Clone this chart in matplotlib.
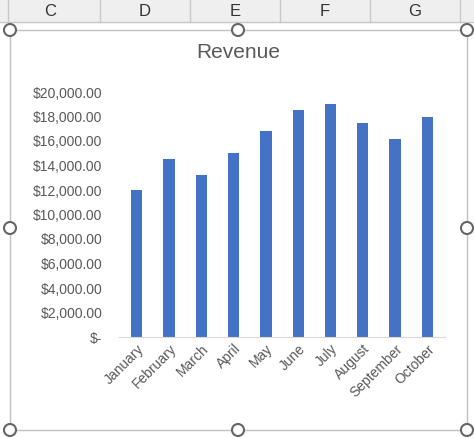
import matplotlib
matplotlib.use('Agg')
import matplotlib.pyplot as plt
from matplotlib.patches import Rectangle, Circle

plt.rcParams['font.family'] = ['Liberation Sans', 'DejaVu Sans']

months = ['January', 'February', 'March', 'April', 'May', 'June',
          'July', 'August', 'September', 'October']
revenue = [12000, 14500, 13200, 15000, 16800, 18500, 19000, 17500, 16200, 18000]
columns = ['C', 'D', 'E', 'F', 'G']
col_x = [50, 145, 235, 325, 415]

W, H = 474, 438
fig = plt.figure(figsize=(W / 100, H / 100), dpi=100)

# spreadsheet background: header strip and cell grid
bg = fig.add_axes([0, 0, 1, 1])
bg.set_xlim(0, W)
bg.set_ylim(H, 0)
bg.axis('off')
bg.add_patch(Rectangle((0, 0), W, 22, color='#efefef'))
bg.axhline(22, color='#c8c8c8', lw=1)
for x in [8, 100, 190, 280, 370, 460]:
    bg.plot([x, x], [0, 22], color='#c8c8c8', lw=1)
for c, x in zip(columns, col_x):
    bg.text(x, 11, c, ha='center', va='center', fontsize=12, color='#333333')
bg.add_patch(Rectangle((10, 30), 457, 400, facecolor='white', edgecolor='#c0c0c0', lw=1))
for (hx, hy) in [(10, 30), (238, 30), (467, 30), (10, 228), (467, 228), (10, 430), (238, 430), (467, 430)]:
    bg.add_patch(Circle((hx, hy), 6, facecolor='white', edgecolor='#666666', lw=1.5, zorder=5))

ax = fig.add_axes([0.251, 1 - 337 / H, 0.688, (337 - 92) / H])
ax.bar(range(len(months)), revenue, width=0.35, color='#4472c4')
ax.set_ylim(0, 20000)
ax.set_yticks(range(0, 20001, 2000))
ax.set_yticklabels(['$-' if v == 0 else '${:,.2f}'.format(v) for v in range(0, 20001, 2000)])
ax.set_xticks(range(len(months)))
ax.set_xticklabels(months, rotation=45, ha='right', rotation_mode='anchor')
ax.set_xlim(-0.55, len(months) - 0.45)
ax.tick_params(colors='#595959', labelsize=10, length=0)
ax.tick_params(axis='y', pad=12)
for s in ['top', 'right', 'left']:
    ax.spines[s].set_visible(False)
ax.spines['bottom'].set_color('#d9d9d9')
fig.text(238 / W, 1 - 52 / H, 'Revenue', ha='center', va='center', fontsize=15, color='#595959')

fig.savefig('out.png', dpi=100)
